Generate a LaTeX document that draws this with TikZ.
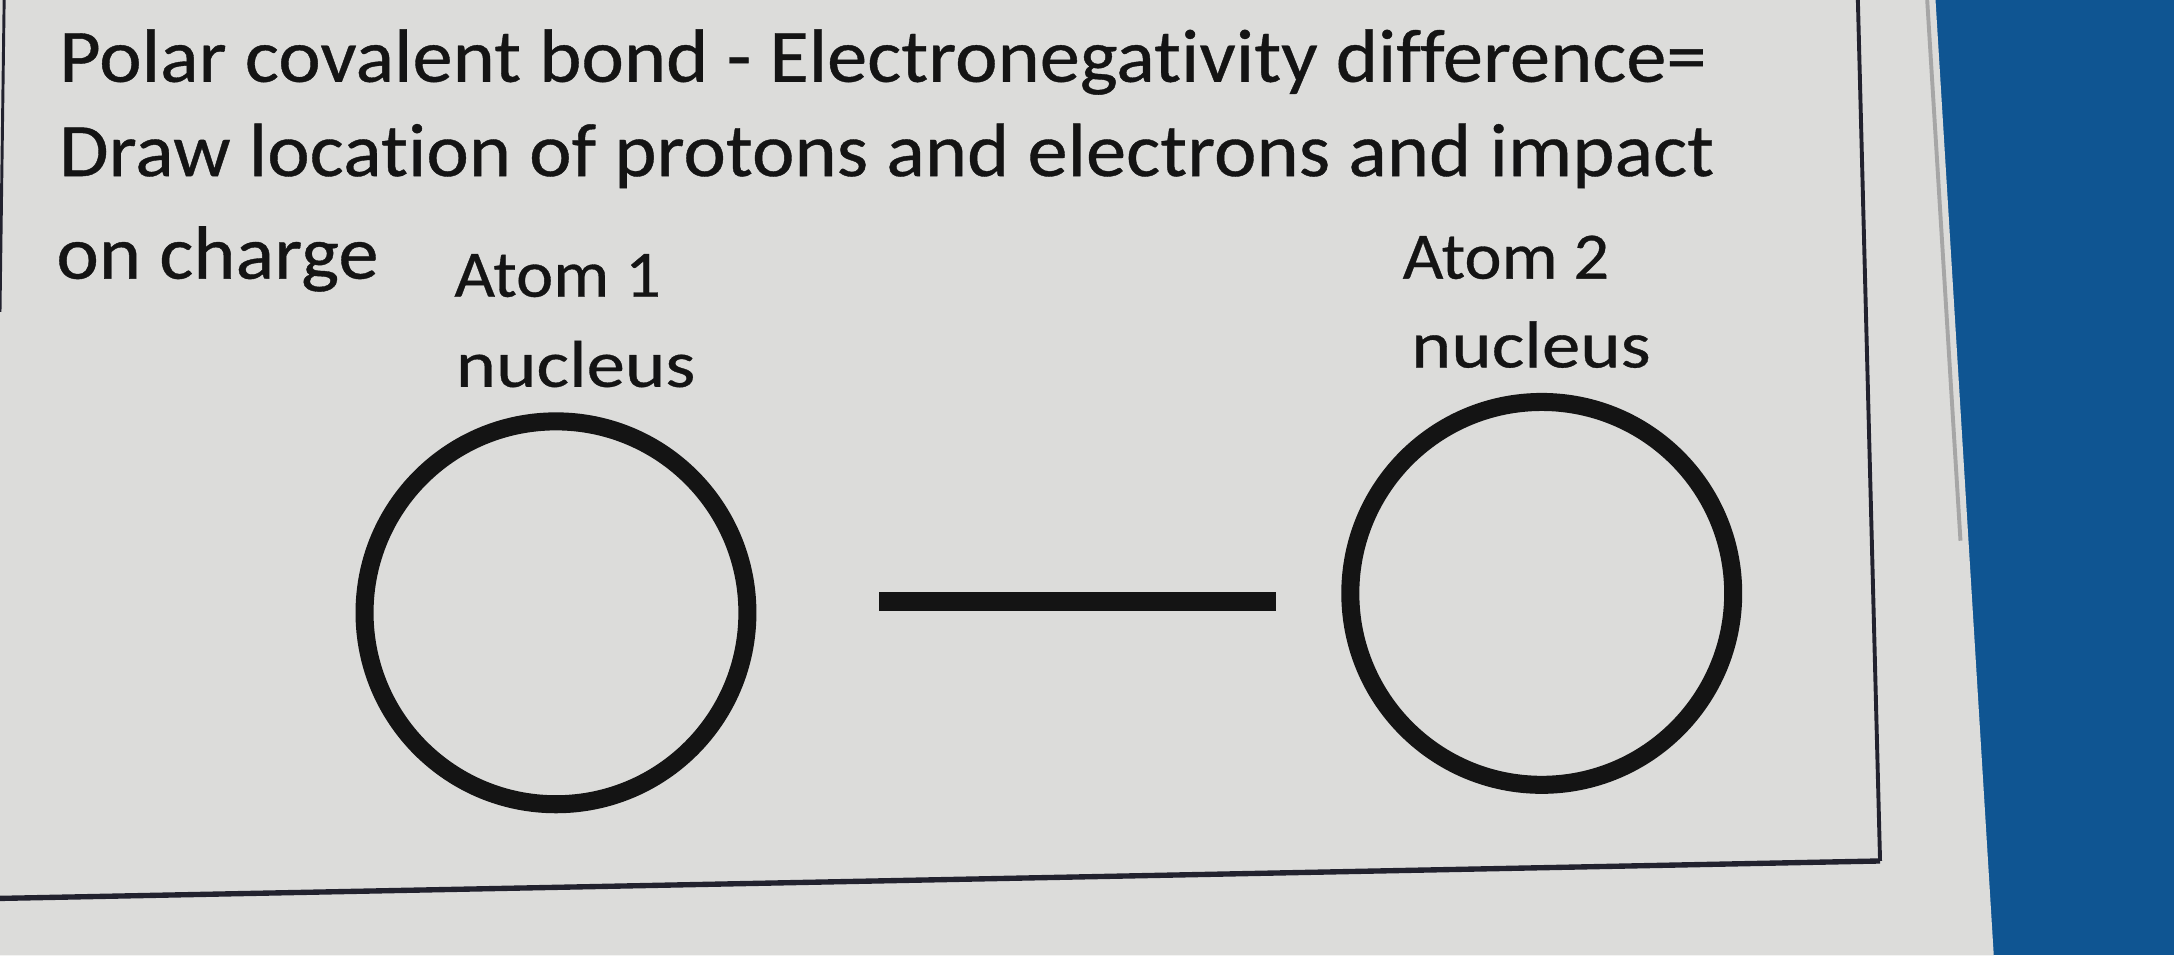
\documentclass[tikz,border=0pt]{standalone}
\usepackage{fontspec}
\setmainfont{Carlito}[Ligatures=NoCommon]
\newfontfamily\headfont{Carlito}[Ligatures=NoCommon, FakeStretch=1.065, FakeBold=0.5]
\newfontfamily\atomfont{Carlito}[Ligatures=NoCommon, FakeStretch=1.06, FakeBold=0.5]
\newfontfamily\nucfont{Carlito}[Ligatures=NoCommon, FakeStretch=1.16, FakeBold=0.5]
\definecolor{paper}{HTML}{DCDCDA}
\definecolor{desk}{HTML}{0F5592}
\definecolor{ink}{HTML}{141414}
\definecolor{rule}{HTML}{22222E}
\tikzset{
  heading/.style={inner sep=0pt, anchor=base west, text=ink, font=\headfont\fontsize{15.5}{18}\selectfont},
  atomlabel/.style={inner sep=0pt, anchor=base west, text=ink, font=\atomfont\fontsize{13.6}{16}\selectfont},
  nuclabel/.style={inner sep=0pt, anchor=base west, text=ink, font=\nucfont\fontsize{13.6}{16}\selectfont},
  nucleusring/.style={circle, draw=ink, line width=3.7pt, inner sep=0pt},
  bondline/.style={draw=ink, line width=4pt, line cap=butt},
  frameline/.style={draw=rule, line width=0.8pt},
}
\begin{document}
\begin{tikzpicture}[x=0.01cm, y=-0.01cm]
  \useasboundingbox (0,0) rectangle (1568,689);
  % background: desk and paper
  \fill[desk] (0,0) rectangle (1568,689);
  \fill[paper] (0,0) -- (1396,0) -- (1438,689) -- (0,689) -- cycle;
  \draw[gray!70, line width=0.8pt] (1390,0) -- (1414,390);
  % worksheet frame
  \draw[frameline] (1340,0) -- (1356,621);
  \draw[frameline, line width=1.1pt] (1356,621) -- (0,648);
  \draw[frameline, line width=0.6pt] (3,0) -- (0,225);
  % texts
  \node[heading] (t1) at (42,59) {Polar covalent bond - Electronegativity difference=};
  \node[heading] (t2) at (42,127) {Draw location of protons and electrons and impact};
  \node[heading] (t3) at (40,201) {on charge};
  \node[atomlabel] (a1) at (327,214) {Atom 1};
  \node[nuclabel] (n1) at (328,279) {nucleus};
  \node[atomlabel] (a2) at (1011,201) {Atom 2};
  \node[nuclabel] (n2) at (1017,265) {nucleus};
  % atoms and bond
  \node[nucleusring, minimum size=2.76cm] (atomA) at (401,442) {};
  \node[nucleusring, minimum size=2.76cm] (atomB) at (1112,428) {};
  \coordinate (bondL) at (634,434);
  \coordinate (bondR) at (920,434);
  \draw[bondline] (bondL) -- (bondR);
\end{tikzpicture}
\end{document}
